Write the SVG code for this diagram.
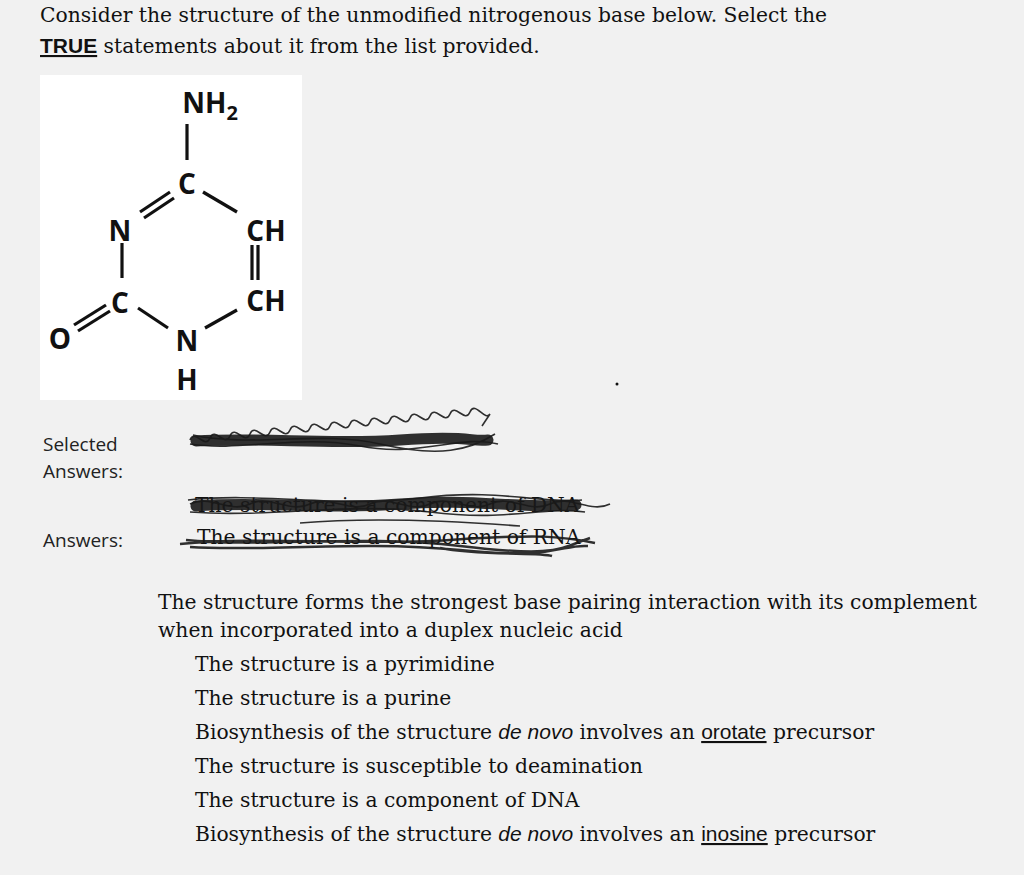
<svg xmlns="http://www.w3.org/2000/svg" width="1024" height="875" viewBox="0 0 1024 875">
<style>
.s{font-family:"DejaVu Serif","Liberation Serif",serif;font-size:20.3px;fill:#111}
.ss{font-family:"Liberation Sans",Arial,sans-serif}
.lab{font-family:"Open Sans","Liberation Sans",sans-serif;font-size:19px;fill:#222}
.at{font-family:"Open Sans","DejaVu Sans",sans-serif;font-weight:bold;font-size:28px;fill:#111;text-anchor:middle}
.b{stroke:#111;stroke-width:3.2;fill:none}
.sc{stroke:#1a1a1a;fill:none;opacity:.9}
</style>
<rect width="1024" height="875" fill="#f1f1f1"/>
<text class="s" x="40" y="22">Consider the structure of the unmodified nitrogenous base below. Select the</text>
<text class="s" x="40" y="53"><tspan class="ss" font-size="21" font-weight="bold" text-decoration="underline">TRUE</tspan> statements about it from the list provided.</text>
<g id="molecule">
<rect x="40" y="75" width="262" height="325" fill="#fff"/>
<text class="at" x="210" y="113">NH<tspan font-size="20" dy="7">2</tspan></text>
<text class="at" x="187" y="194">C</text>
<text class="at" x="120" y="241">N</text>
<text class="at" x="266" y="241">CH</text>
<text class="at" x="120" y="313">C</text>
<text class="at" x="266" y="311">CH</text>
<text class="at" x="187" y="351">N</text>
<text class="at" x="187" y="390">H</text>
<text class="at" x="60" y="349">O</text>
<line class="b" x1="187" y1="124" x2="187" y2="160"/>
<line class="b" x1="140" y1="212" x2="170" y2="192"/>
<line class="b" x1="144" y1="218" x2="174" y2="198"/>
<line class="b" x1="203" y1="192" x2="237" y2="212"/>
<line class="b" x1="252" y1="245" x2="252" y2="280"/>
<line class="b" x1="258" y1="245" x2="258" y2="280"/>
<line class="b" x1="122" y1="243" x2="122" y2="278"/>
<line class="b" x1="138" y1="308" x2="168" y2="328"/>
<line class="b" x1="205" y1="328" x2="237" y2="310"/>
<line class="b" x1="74" y1="325" x2="106" y2="305"/>
<line class="b" x1="78" y1="331" x2="110" y2="311"/>
</g>
<circle cx="617" cy="384" r="1.5" fill="#111"/>
<text class="lab" x="43" y="451">Selected</text>
<text class="lab" x="43" y="478">Answers:</text>
<text class="lab" x="43" y="547">Answers:</text>
<g id="scribbles">
<path class="sc" style="stroke-width:11;stroke-linecap:round" d="M196 441 C260 437 330 445 400 440 S470 442 488 440"/>
<path class="sc" style="stroke-width:1.6" d="M190 444 C240 452 300 434 360 446 S460 434 498 444 M193 435 C250 448 320 430 380 444 S470 450 495 434 M190 440 c5 -12 15 10 20 -2 c5 -12 15 10 20 -2 c5 -12 15 10 20 -2 c5 -12 15 10 20 -2 c5 -12 15 10 20 -2 c5 -12 15 10 20 -2 c5 -12 15 10 20 -2 c5 -12 15 10 20 -2 c5 -12 15 10 20 -2 c5 -12 15 10 20 -2 c5 -12 15 10 20 -2 c5 -12 15 10 20 -2 c5 -12 15 10 20 -2 c5 -12 15 10 20 -2 c5 -12 15 10 20 2 l-8 12"/>
<text class="s" x="195" y="512" font-size="17" fill="#333">The structure is a component of DNA</text>
<path class="sc" style="stroke-width:11;stroke-linecap:round" d="M196 506 C260 501 330 510 400 504 S520 509 576 505"/>
<path class="sc" style="stroke-width:1.6" d="M188 500 C260 492 340 508 420 498 S540 504 582 500 M190 512 C270 518 350 502 430 512 S540 506 585 512 M300 523 C360 518 440 520 520 526 M190 504 c20 -10 40 10 60 0 c20 -10 40 10 60 0 c20 -10 40 10 60 0 c20 -10 40 10 60 0 c20 -10 40 10 60 0 c20 -10 40 10 60 0 c20 -10 40 10 60 0"/>
<text class="s" x="197" y="544" font-size="17">The structure is a component of RNA</text>
<path class="sc" style="stroke-width:2.5" d="M180 544 C260 536 360 546 450 540 S560 536 595 543 M186 540 C260 548 360 534 460 546 S560 548 590 538 M190 547 C260 552 360 540 460 550 S560 544 588 546 M440 548 C480 556 540 552 552 556"/>
</g>
<g id="answers">
<text class="s" x="158" y="609">The structure forms the strongest base pairing interaction with its complement</text>
<text class="s" x="158" y="637">when incorporated into a duplex nucleic acid</text>
<text class="s" x="195" y="671">The structure is a pyrimidine</text>
<text class="s" x="195" y="705">The structure is a purine</text>
<text class="s" x="195" y="739">Biosynthesis of the structure <tspan class="ss" font-style="italic" font-size="21">de novo</tspan> involves an <tspan class="ss" font-size="21" text-decoration="underline">orotate</tspan> precursor</text>
<text class="s" x="195" y="773">The structure is susceptible to deamination</text>
<text class="s" x="195" y="807">The structure is a component of DNA</text>
<text class="s" x="195" y="841">Biosynthesis of the structure <tspan class="ss" font-style="italic" font-size="21">de novo</tspan> involves an <tspan class="ss" font-size="21" text-decoration="underline">inosine</tspan> precursor</text>
</g>
</svg>
